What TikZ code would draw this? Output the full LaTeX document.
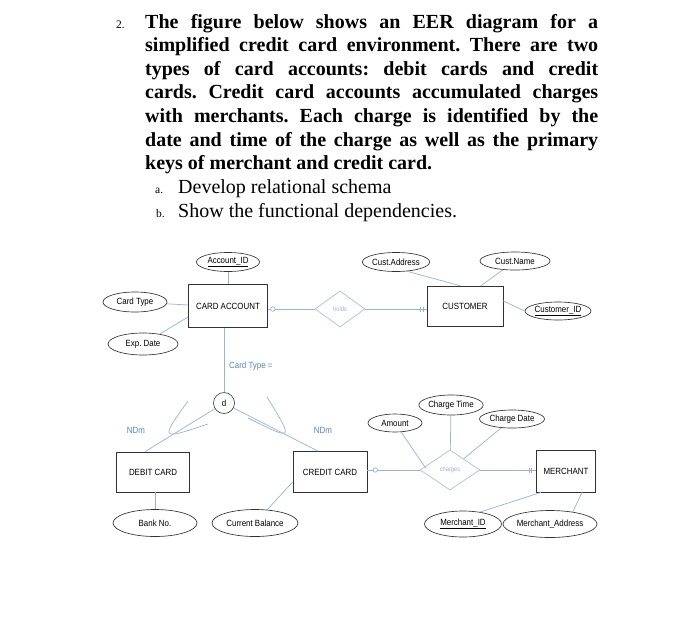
\documentclass[tikz,border=0pt]{standalone}
\usepackage{fontspec}
\setmainfont{Liberation Serif}
\newfontfamily\dfont[FakeStretch=0.88]{Liberation Sans}
\usetikzlibrary{shapes.geometric,calc}
\definecolor{lnblue}{RGB}{150,180,215}
\definecolor{lblblue}{RGB}{85,135,200}
\definecolor{dmblue}{RGB}{165,195,225}
\definecolor{bdgray}{RGB}{50,50,50}
\frenchspacing
\begin{document}
\frenchspacing
\begin{tikzpicture}[x=1pt,y=-1pt,
  ent/.style={draw=bdgray, line width=0.7pt, rectangle, inner sep=0pt, font=\dfont\fontsize{9}{10}\selectfont},
  attr/.style={draw=bdgray, line width=0.65pt, ellipse, inner sep=0pt, font=\dfont\fontsize{9}{10}\selectfont},
  rel/.style={draw=dmblue, line width=0.7pt, diamond, inner sep=0pt, text=lnblue, font=\dfont\fontsize{6.5}{8}\selectfont},
  conn/.style={draw=lnblue, line width=0.7pt},
  lbl/.style={text=lblblue, inner sep=0pt, font=\dfont\fontsize{9}{10}\selectfont},
  btxt/.style={anchor=base west, inner sep=0pt, font=\bfseries\fontsize{20}{23.6}\selectfont},
  rtxt/.style={anchor=base west, inner sep=0pt, font=\fontsize{20}{23.6}\selectfont},
  numtxt/.style={anchor=base west, inner sep=0pt, font=\fontsize{11.5}{13}\selectfont}
]
\path[fill=white] (0,0) rectangle (700,619);
\useasboundingbox (0,0) rectangle (700,619);

% question text
\node[numtxt] (n2) at (116,28) {2.};
\node[btxt] (l1) at (145,28) {\makebox[453pt][s]{The figure below shows an EER diagram for a}};
\node[btxt] (l2) at (145,51.6) {\makebox[453pt][s]{simplified credit card environment. There are two}};
\node[btxt] (l3) at (145,75.2) {\makebox[453pt][s]{types of card accounts: debit cards and credit}};
\node[btxt] (l4) at (145,98.8) {\makebox[453pt][s]{cards. Credit card accounts accumulated charges}};
\node[btxt] (l5) at (145,122.4) {\makebox[453pt][s]{with merchants. Each charge is identified by the}};
\node[btxt] (l6) at (145,146) {\makebox[453pt][s]{date and time of the charge as well as the primary}};
\node[btxt] (l7) at (145,169.6) {keys of merchant and credit card.};
\node[numtxt] (na) at (155,193) {a.};
\node[rtxt] (la) at (178,193) {Develop relational schema};
\node[numtxt] (nb) at (156,217) {b.};
\node[rtxt] (lb) at (178,217) {Show the functional dependencies.};

% entities and attributes
\node[attr, minimum width=63pt, minimum height=19pt] (accid) at (228,262) {\underline{Account\_ID}};
\node[ent, minimum width=79pt, minimum height=43pt] (cardacc) at (228,306) {CARD ACCOUNT};
\node[attr, minimum width=64pt, minimum height=20pt] (cardtype) at (135,302) {Card Type};
\node[attr, minimum width=70pt, minimum height=22pt] (expdate) at (143,344) {Exp. Date};
\node[rel, minimum width=50pt, minimum height=36pt] (holds) at (340,309) {holds};
\node[ent, minimum width=76pt, minimum height=40pt] (cust) at (465,306) {CUSTOMER};
\node[attr, minimum width=62pt, minimum height=19pt] (caddr) at (396,262) {Cust.Address};
\node[attr, minimum width=70pt, minimum height=18pt] (cname) at (515,261) {Cust.Name};
\node[attr, minimum width=64pt, minimum height=18pt] (custid) at (558,311) {\underline{Customer\_ID}};

\node[circle, draw=bdgray, line width=0.6pt, minimum size=21pt, inner sep=0pt, font=\dfont\fontsize{9}{10}\selectfont] (d) at (224,403) {d};
\node[lbl, anchor=west] (cteq) at (229,366) {Card Type =};
\node[lbl] (ndm1) at (136,430) {NDm};
\node[lbl] (ndm2) at (323,430) {NDm};

\node[ent, minimum width=73pt, minimum height=40pt] (debit) at (153,472) {DEBIT CARD};
\node[ent, minimum width=74pt, minimum height=41pt] (credit) at (330,472) {CREDIT CARD};
\node[attr, minimum width=84pt, minimum height=27pt] (bankno) at (155,523) {Bank No.};
\node[attr, minimum width=86pt, minimum height=27pt] (curbal) at (255,523) {Current Balance};

\node[rel, minimum width=60pt, minimum height=40pt] (charges) at (450,470) {charges};
\node[ent, minimum width=59pt, minimum height=42pt] (merch) at (566,471) {MERCHANT};
\node[attr, minimum width=54pt, minimum height=18pt] (amount) at (395,423) {Amount};
\node[attr, minimum width=62pt, minimum height=20pt] (chtime) at (451,405) {Charge Time};
\node[attr, minimum width=65pt, minimum height=18pt] (chdate) at (512,419) {Charge Date};
\node[attr, minimum width=77pt, minimum height=26pt] (mid) at (463,524) {\underline{Merchant\_ID}};
\node[attr, minimum width=90pt, minimum height=27pt] (maddr) at (550,524) {Merchant\_Address};

% connectors
\draw[conn] (accid) -- (cardacc);
\draw[conn] (cardtype) -- ([yshift=1pt]cardacc.west);
\draw[conn] (expdate) -- ([yshift=-11pt]cardacc.west);
\draw[conn] (cardacc.east |- holds.west) -- (holds.west);
\coordinate (m1) at ($(cardacc.east |- holds.west)+(5,0)$);
\draw[conn, fill=white] (m1) circle (2.2pt);
\draw[conn] (holds.east) -- (holds.east -| cust.west);
\coordinate (t1) at ($(holds.east -| cust.west)+(-6,0)$);
\coordinate (t2) at ($(holds.east -| cust.west)+(-3.5,0)$);
\draw[conn, line width=0.5pt] ([yshift=2.5pt]t1) -- ([yshift=-2.5pt]t1) ([yshift=2.5pt]t2) -- ([yshift=-2.5pt]t2);
\draw[conn] (caddr.-40) -- ([xshift=-5pt]cust.north);
\draw[conn] (cname) -- ([xshift=16pt]cust.north);
\draw[conn] (custid.west) -- ([yshift=5pt]cust.east);

\draw[conn] (d.north) -- (d.north |- cardacc.south);
\draw[conn] (d) -- ([xshift=-8pt]debit.north);
\draw[conn] (d) -- ([xshift=-12pt]credit.north);
\draw[conn] (188,401) .. controls (160,440) .. (208,424);
\draw[conn] (267,397) .. controls (294,441) .. (248,418);
\draw[conn] (bankno.north) -- (bankno.north |- debit.south);
\draw[conn] (curbal) -- ([yshift=-10pt]credit.west);

\draw[conn] (credit.east |- charges.west) -- (charges.west);
\coordinate (m2) at ($(credit.east |- charges.west)+(8,0)$);
\draw[conn, fill=white] (m2) circle (2.2pt);
\draw[conn] (charges.east) -- (charges.east -| merch.west);
\coordinate (t3) at ($(charges.east -| merch.west)+(-7,0)$);
\coordinate (t4) at ($(charges.east -| merch.west)+(-4.5,0)$);
\draw[conn, line width=0.5pt] ([yshift=2.5pt]t3) -- ([yshift=-2.5pt]t3) ([yshift=2.5pt]t4) -- ([yshift=-2.5pt]t4);
\draw[conn] (amount) -- ([xshift=6pt,yshift=2pt]charges.west);
\draw[conn] (chtime) -- (charges);
\draw[conn] (chdate) -- (charges);
\draw[conn] (mid.35) -- ([xshift=5pt]merch.south west);
\draw[conn] (maddr.28) -- ([xshift=16pt]merch.south);
\end{tikzpicture}
\end{document}
